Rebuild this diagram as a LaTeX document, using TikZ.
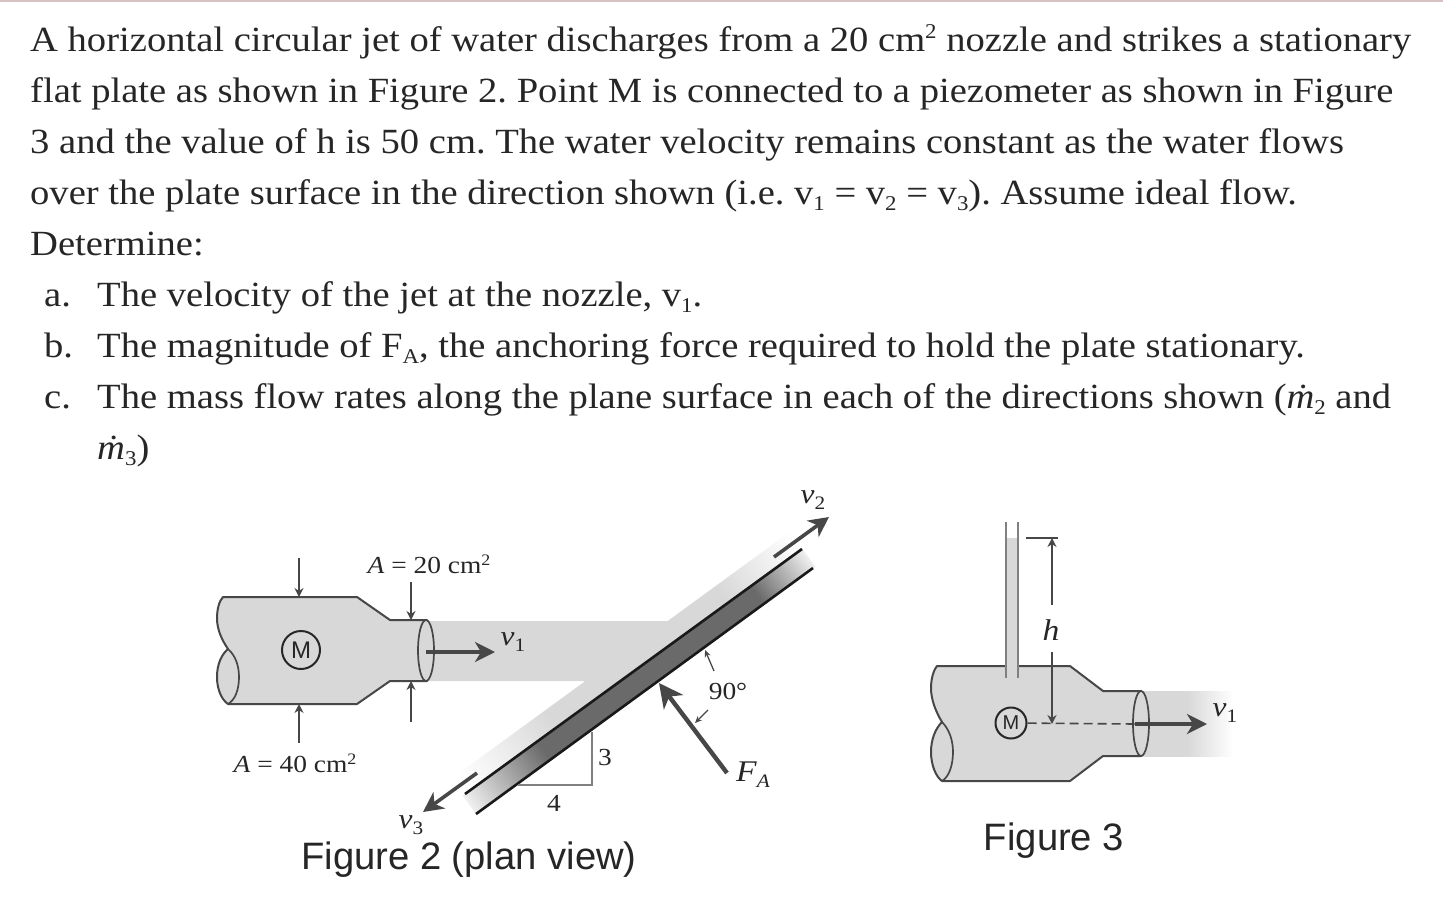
\documentclass[tikz,border=0pt]{standalone}
\usepackage{fontspec}
\setmainfont[FakeStretch=1.09]{Liberation Serif}
\newfontfamily\figsans{Liberation Sans}
\newfontfamily\labfont[FakeStretch=1.12]{Liberation Serif}
\usetikzlibrary{arrows.meta}
\definecolor{ink}{HTML}{262626}
\definecolor{wat}{HTML}{D8D8D8}
\definecolor{fadeend}{HTML}{F0F0F0}
\definecolor{steel}{HTML}{6A6A6A}
\definecolor{edge}{HTML}{474747}
\pgfdeclarehorizontalshading{plateshade}{100bp}{color(0bp)=(fadeend);color(25bp)=(fadeend);color(36bp)=(steel);color(67.4bp)=(steel);color(75bp)=(fadeend);color(100bp)=(fadeend)}
\pgfdeclarehorizontalshading{bandshade}{100bp}{color(0bp)=(white);color(26bp)=(white);color(39bp)=(wat);color(64bp)=(wat);color(75bp)=(white);color(100bp)=(white)}
\newcommand\sbs[1]{\raisebox{-0.17em}{\fontsize{21}{21}\selectfont #1}}
\newcommand\sps[1]{\raisebox{0.36em}{\fontsize{21}{21}\selectfont #1}}
\newcommand\bodyfont{\fontsize{35.4}{40}\selectfont\frenchspacing}
\newcommand\lsp[1]{\raisebox{0.33em}{\fontsize{16}{16}\selectfont #1}}
\newcommand\vlab[1]{\fontsize{28}{30}\selectfont\textit{v}\raisebox{-0.2em}{\fontsize{19}{19}\selectfont #1}}
\tikzset{
  bodyline/.style={anchor=base west,inner sep=0pt,text=ink,font=\bodyfont},
  lab/.style={inner sep=0pt,text=ink,font=\labfont\fontsize{24.5}{27}\selectfont},
  figcap/.style={inner sep=0pt,text=ink,font=\figsans\fontsize{38.2}{42}\selectfont},
  pipe/.style={draw=edge,line width=2pt,fill=wat,line join=round},
  thinedge/.style={draw=edge,line width=1.7pt},
  dimline/.style={draw=edge,line width=1.7pt,-{Stealth[length=9pt,width=9pt]}},
  bigarrow/.style={draw=edge,line width=3.6pt,-{Stealth[length=20pt,width=20pt,inset=6pt]}},
  platerim/.style={draw=black!90,line width=2.6pt},
  mcircle/.style={circle,draw=ink,line width=2pt,inner sep=0pt,text=ink,font=\figsans\fontsize{24}{26}\selectfont},
}
\begin{document}
\begin{tikzpicture}[x=1pt,y=-1pt]
\useasboundingbox (0,0) rectangle (1443,897);
\fill[white] (0,0) rectangle (1443,897);
\fill[red!20!gray!40] (0,0) rectangle (1443,2);
% text
\node[bodyline] (l1) at (30,51.5) {A horizontal circular jet of water discharges from a 20 cm\sps{2} nozzle and strikes a stationary};
\node[bodyline] (l2) at (30,102.5) {flat plate as shown in Figure 2. Point M is connected to a piezometer as shown in Figure};
\node[bodyline] (l3) at (30,153.5) {3 and the value of h is 50 cm. The water velocity remains constant as the water flows};
\node[bodyline] (l4) at (30,204.5) {over the plate surface in the direction shown (i.e. v\sbs{1} = v\sbs{2} = v\sbs{3}). Assume ideal flow.};
\node[bodyline] (l5) at (30,255.5) {Determine:};
\node[bodyline] (ma) at (44,306.5) {a.};
\node[bodyline] (la) at (97,306.5) {The velocity of the jet at the nozzle, v\sbs{1}.};
\node[bodyline] (mb) at (44,357.5) {b.};
\node[bodyline] (lb) at (97,357.5) {The magnitude of F\sbs{A}, the anchoring force required to hold the plate stationary.};
\node[bodyline] (mc) at (44,408.5) {c.};
\node[bodyline] (lc) at (97,408.5) {The mass flow rates along the plane surface in each of the directions shown (\textit{ṁ}\sbs{2} and};
\node[bodyline] (ld) at (97,459.5) {\textit{ṁ}\sbs{3})};
% Figure 2 : jet
\fill[wat] (426,621) -- (668,621) -- (690,640) -- (600,700) -- (584,681) -- (426,681) -- cycle;
% plate
\begin{scope}[transform canvas={shift={(476pt,-814pt)},rotate=36.1},x=1pt,y=1pt]
\shade[shading=bandshade] (0,22) rectangle (420,43);
\shade[shading=plateshade] (0,0) rectangle (420,22.6);
\end{scope}
\coordinate (pua) at (465,794);
\coordinate (pub) at (802,549);
\coordinate (pla) at (476,814);
\coordinate (plb) at (813,568);
\draw[platerim] (pua) -- (pub);
\draw[platerim] (pla) -- (plb);
% triangle
\coordinate (ta) at (592,732);
\coordinate (tb) at (592,785);
\coordinate (tc) at (518,785);
\draw[draw=gray,line width=1.8pt] (ta) -- (tb) -- (tc);
\node[lab] (n3) at (605,757) {3};
\node[lab] (n4) at (554,803) {4};
% pipe
\draw[pipe] (223,597) -- (357,597) -- (390,620) -- (427,620) -- (427,681) -- (390,681) -- (357,704) -- (228,704)
  .. controls (222,700) and (217,690) .. (217,677) .. controls (217,665) and (221,655) .. (228,649)
  .. controls (222,640) and (217,630) .. (217,618) .. controls (217,610) and (219,601) .. (223,597) -- cycle;
\draw[thinedge] (228,649) .. controls (235,655) and (239,665) .. (239,677) .. controls (239,690) and (235,700) .. (228,704);
\draw[thinedge,fill=wat] (426,650.5) ellipse [x radius=8,y radius=30.5];
\node[mcircle,minimum size=38pt] (m2) at (301,650) {M};
\coordinate (v1a) at (426,652);
\coordinate (v1b) at (495,652);
\draw[bigarrow] (v1a) -- (v1b);
\node[lab] (v1l) at (513,642) {\vlab{1}};
% area dims
\coordinate (d1) at (299,558); \coordinate (d2) at (299,597);
\coordinate (d3) at (299,743); \coordinate (d4) at (299,704);
\coordinate (d5) at (411,582); \coordinate (d6) at (411,620);
\coordinate (d7) at (411,722); \coordinate (d8) at (411,681);
\draw[dimline] (d1) -- (d2);
\draw[dimline] (d3) -- (d4);
\draw[dimline] (d5) -- (d6);
\draw[dimline] (d7) -- (d8);
\node[lab] (a20) at (429,564) {\textit{A} = 20 cm\lsp{2}};
\node[lab] (a40) at (295,763) {\textit{A} = 40 cm\lsp{2}};
% plate arrows
\coordinate (v2a) at (774,557); \coordinate (v2b) at (829,517);
\coordinate (v3a) at (477,773); \coordinate (v3b) at (423,812);
\draw[bigarrow] (v2a) -- (v2b);
\draw[bigarrow] (v3a) -- (v3b);
\node[lab] (v2l) at (813,500) {\vlab{2}};
\node[lab] (v3l) at (411,825) {\vlab{3}};
\coordinate (fa) at (727,773); \coordinate (fb) at (659,683);
\draw[bigarrow,line width=4.4pt,-{Stealth[length=24pt,width=24pt,inset=7pt]}] (fa) -- (fb);
\node[lab,font=\labfont\fontsize{30}{32}\selectfont] (fal) at (753,775) {\textit{F}\raisebox{-0.2em}{\fontsize{19}{19}\selectfont\textit{A}}};
\node[lab] (ang) at (728,691) {90°};
\coordinate (g1) at (714,671); \coordinate (g2) at (705,650);
\coordinate (g3) at (708,710); \coordinate (g4) at (695,723);
\draw[dimline,line width=1.3pt,-{Stealth[length=7pt,width=6pt]}] (g1) -- (g2);
\draw[dimline,line width=1.3pt,-{Stealth[length=7pt,width=6pt]}] (g3) -- (g4);
\node[figcap] (cap2) at (469,860) {Figure 2 (plan view)};
% Figure 3
\shade[left color=wat,right color=white,middle color=wat] (1141,691) rectangle (1233,756);
\draw[pipe] (937,666) -- (1070,666) -- (1103,691) -- (1141,691) -- (1141,756) -- (1103,756) -- (1070,781) -- (942,781)
  .. controls (936,777) and (931,765) .. (931,752) .. controls (931,740) and (935,729) .. (942,722)
  .. controls (936,712) and (931,700) .. (931,688) .. controls (931,680) and (933,671) .. (937,666) -- cycle;
\draw[thinedge] (942,722) .. controls (949,729) and (953,740) .. (953,752) .. controls (953,765) and (949,777) .. (942,781);
\draw[thinedge,fill=wat] (1141,723.5) ellipse [x radius=8,y radius=32.5];
% tube
\fill[wat] (1006,538) rectangle (1018,678);
\coordinate (t1) at (1006,522); \coordinate (t2) at (1006,678);
\coordinate (t3) at (1018,522); \coordinate (t4) at (1018,678);
\draw[draw=gray,line width=2.6pt] (t1) -- (t2);
\draw[draw=gray,line width=2.6pt] (t3) -- (t4);
\node[mcircle,minimum size=31pt,font=\figsans\fontsize{20}{22}\selectfont] (m3) at (1011,723) {M};
% h
\coordinate (h0) at (1026,538); \coordinate (h1) at (1058,538);
\draw[thinedge] (h0) -- (h1);
\node[lab,font=\labfont\fontsize{30}{32}\selectfont] (hl) at (1051,630) {\textit{h}};
\coordinate (h2) at (1052,605); \coordinate (h3) at (1052,538);
\coordinate (h4) at (1052,652); \coordinate (h5) at (1052,724);
\draw[dimline] (h2) -- (h3);
\draw[dimline] (h4) -- (h5);
\coordinate (dsh) at (1135,724);
\draw[draw=edge,line width=1.6pt,dash pattern=on 9pt off 5pt] (m3) -- (dsh);
\coordinate (v1c) at (1207,724);
\draw[bigarrow] (dsh) -- (v1c);
\node[lab] (v1m) at (1225,713) {\vlab{1}};
\node[figcap] (cap3) at (1054,841) {Figure 3};
\end{tikzpicture}
\end{document}
